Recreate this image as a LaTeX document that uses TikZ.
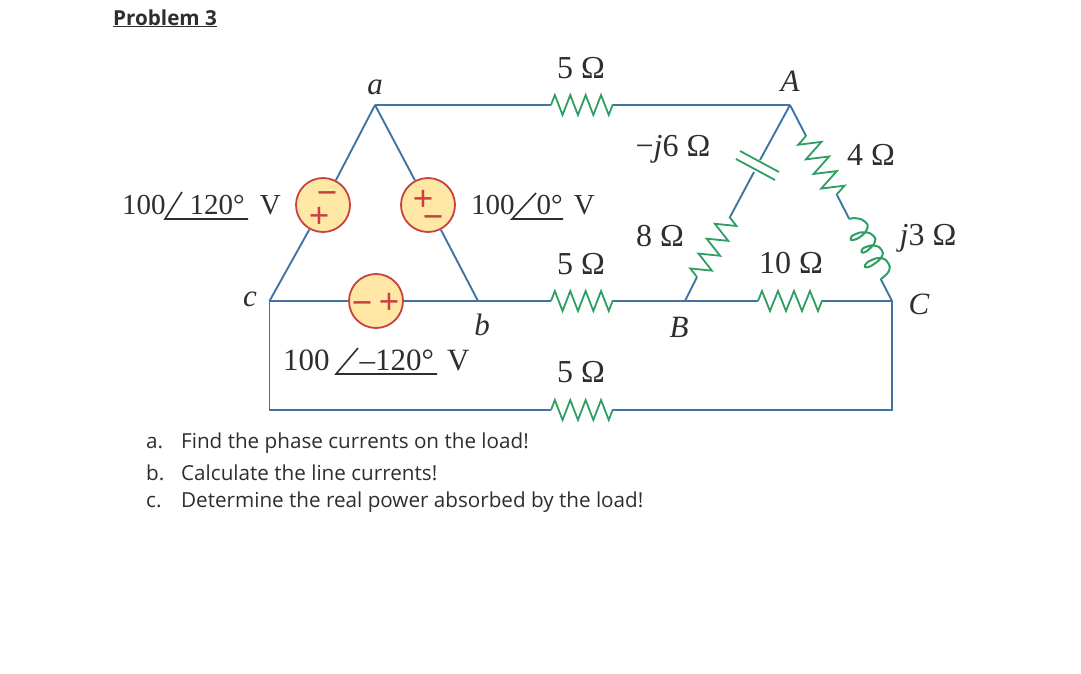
\documentclass[tikz,border=0pt]{standalone}
\usepackage{fontspec}
\setmainfont{Liberation Serif}
\newfontfamily\notefont{Open Sans}
\newfontfamily\signfont{Liberation Sans}
\usetikzlibrary{decorations.pathmorphing}
\definecolor{wire}{HTML}{3F74A3}
\definecolor{part}{HTML}{2E9E62}
\definecolor{srcline}{HTML}{C8403F}
\definecolor{srcfill}{HTML}{FFE8A6}
\definecolor{ink}{HTML}{2E2E2E}
\newcommand{\val}[1]{\fontsize{32}{34}\selectfont #1}
\newcommand{\volt}[2]{\fontsize{#1}{30}\selectfont #2}
\newcommand{\nam}[1]{\fontsize{31}{32}\selectfont\itshape #1}
\newcommand{\sgn}[1]{\fontsize{35}{35}\selectfont\signfont #1}

\begin{document}
\begin{tikzpicture}
	% style
	[x=1pt, y=-1pt,
	lead/.style={draw=wire, line width=1.9pt},
	res/.style={draw=part, line width=1.8pt, decorate,
		decoration={zigzag, segment length=#1, amplitude=10pt}},
	res/.default=15.4pt,
	resflip/.style={draw=part, line width=1.8pt, decorate,
		decoration={zigzag, segment length=16.5pt, amplitude=-11pt}},
	plt/.style={draw=part, line width=1.8pt},
	src/.style={circle, draw=srcline, fill=srcfill, line width=1.8pt, inner sep=0pt, minimum size=54pt},
	sign/.style={text=srcline, inner sep=0pt},
	txt/.style={text=ink, inner sep=0pt},
	note/.style={text=ink, inner sep=0pt, anchor=base west, font=\notefont\fontsize{20.65}{22}\selectfont},
	ang/.style={draw=ink, line width=1.6pt}]
	\useasboundingbox (0,0) rectangle (1081,673);

	% junctions
	\coordinate (a) at (375,105);
	\coordinate (b) at (478,301);
	\coordinate (c) at (269.5,301);
	\coordinate (A) at (790,105);
	\coordinate (B) at (685,301);
	\coordinate (C) at (892,301);
	\coordinate (c_low) at (269.5,410);
	\coordinate (C_low) at (892,410);

	% resistor and coil ends
	\coordinate (r_a1) at (551,105);
	\coordinate (r_a2) at (613,105);
	\coordinate (r_b1) at (551,301);
	\coordinate (r_b2) at (613,301);
	\coordinate (r_c1) at (551,410);
	\coordinate (r_c2) at (613,410);
	\coordinate (r_bc1) at (758,301);
	\coordinate (r_bc2) at (823,301);
	\coordinate (r_ab1) at (697,277);
	\coordinate (r_ab2) at (730,217);
	\coordinate (r_ac1) at (806,136);
	\coordinate (r_ac2) at (837,195);
	\coordinate (l_1) at (849.3,219);
	\coordinate (l_2) at (880.7,279);

	% capacitor
	\coordinate (cap_1) at (760,160);
	\coordinate (cap_2) at (754,172);
	\coordinate (cap_11) at (740,151);
	\coordinate (cap_12) at (779,172);
	\coordinate (cap_21) at (736,159);
	\coordinate (cap_22) at (775,180);

	% sources
	\node [src] (s_c) at (323,205) {};
	\node [src] (s_a) at (428,205) {};
	\node [src] (s_b) at (376,301) {};

	\path[lead] (a)		edge (s_c)
	            (s_c)	edge (c)
	            (a)		edge (s_a)
	            (s_a)	edge (b)
	            (c)		edge (s_b)
	            (s_b)	edge (b)
	            (a)		edge (r_a1)
	            (r_a2)	edge (A)
	            (b)		edge (r_b1)
	            (r_b2)	edge (B)
	            (B)		edge (r_bc1)
	            (r_bc2)	edge (C)
	            (A)		edge (cap_1)
	            (cap_2)	edge (r_ab2)
	            (r_ab1)	edge (B)
	            (A)		edge (r_ac1)
	            (r_ac2)	edge (l_1)
	            (l_2)	edge (C);
	\draw[lead, line join=miter] (c) -- (c_low) -- (r_c1);
	\draw[lead, line join=miter] (C) -- (C_low) -- (r_c2);

	\path (r_a1)	edge[res] (r_a2)
	      (r_b1)	edge[res] (r_b2)
	      (r_c1)	edge[res] (r_c2)
	      (r_bc1)	edge[res=16pt] (r_bc2)
	      (r_ab1)	edge[res=17pt] (r_ab2)
	      (r_ac1)	edge[resflip] (r_ac2)
	      (cap_11)	edge[plt] (cap_12)
	      (cap_21)	edge[plt] (cap_22);

	% coil
	\draw[plt, line width=2pt, line join=round] plot[smooth, tension=0.9] coordinates {(l_1) (856.7,218.3) (865,221.7) (867.3,228.3)
		(861.7,235.7) (853.3,240) (850.7,238.3) (855,234.3) (865,232.3) (873.3,235.7) (875,241.7)
		(870,248.3) (863.3,252.7) (861.7,250) (866.7,246.7) (875,245.7) (881.7,250) (881.7,256.7)
		(875,263.3) (867.3,267.3) (865,265) (871.7,260) (881.7,258.3) (888.3,263.3) (889.3,270)
		(885,275.7) (l_2)};

	% source signs
	\node [sign] (s_c_m) at (327,198) {\sgn{−}};
	\node [sign] (s_c_p) at (319,217) {\sgn{+}};
	\node [sign] (s_a_p) at (423,200) {\sgn{+}};
	\node [sign] (s_a_m) at (433,222) {\sgn{−}};
	\node [sign] (s_b_m) at (362,308) {\sgn{−}};
	\node [sign] (s_b_p) at (389,303) {\sgn{+}};

	% names
	\node [txt] (n_a) at (375,87) {\nam{a}};
	\node [txt] (n_b) at (482,325) {\nam{b}};
	\node [txt] (n_c) at (250,299) {\nam{c}};
	\node [txt] (n_A) at (790,81) {\nam{A}};
	\node [txt] (n_B) at (679,327) {\nam{B}};
	\node [txt] (n_C) at (919,304) {\nam{C}};

	% values
	\node [txt] (v_ra) at (581,68) {\val{5 Ω}};
	\node [txt] (v_rb) at (581,264) {\val{5 Ω}};
	\node [txt] (v_rc) at (581,372) {\val{5 Ω}};
	\node [txt] (v_cap) at (673,149) {\val{−\textit{j}6 Ω}};
	\node [txt] (v_rab) at (660,236) {\val{8 Ω}};
	\node [txt] (v_rac) at (871,155) {\val{4 Ω}};
	\node [txt] (v_rbc) at (791,263) {\val{10 Ω}};
	\node [txt] (v_l) at (928,238) {\val{\textit{j}3 Ω}};

	% source values
	\node [txt, anchor=base west] (v_sc) at (122,214) {\volt{29}{\spaceskip=15pt 100\hspace{24pt}120° V}};
	\node [txt, anchor=base west] (v_sa) at (471,214) {\volt{29}{\spaceskip=11pt 100\hspace{22pt}0° V}};
	\node [txt, anchor=base west] (v_sb) at (283,370) {\volt{31}{\spaceskip=13pt 100\hspace{30pt}–120° V}};
	\draw[ang] (182,192) -- (165,219) -- (248,219);
	\draw[ang] (536,193) -- (512,219) -- (563,219);
	\draw[ang] (358,348) -- (336,374) -- (437,374);

	% text
	\node [note] (title) at (113,25) {\underline{\textbf{Problem 3}}};
	\node [note] (q_a) at (146,448) {\makebox[35pt][l]{a.}Find the phase currents on the load!};
	\node [note] (q_b) at (146,480) {\makebox[35pt][l]{b.}Calculate the line currents!};
	\node [note] (q_c) at (146,507) {\makebox[35pt][l]{c.}Determine the real power absorbed by the load!};
\end{tikzpicture}
\end{document}
